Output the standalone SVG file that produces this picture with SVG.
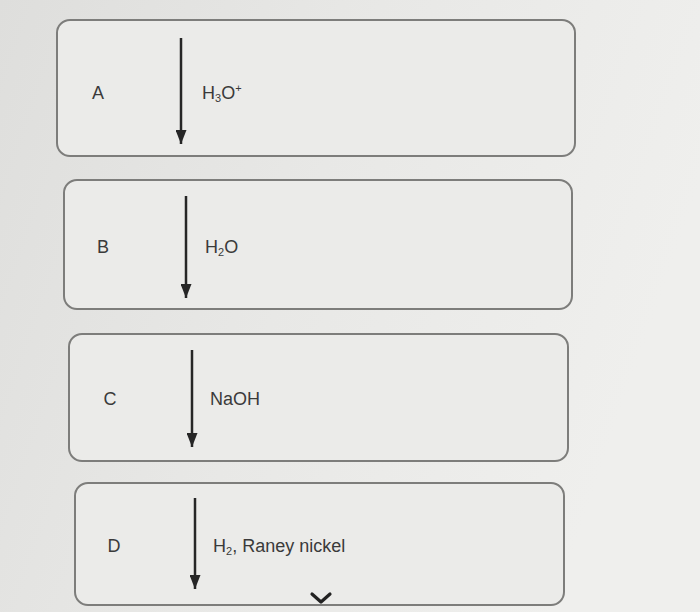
<svg xmlns="http://www.w3.org/2000/svg" width="700" height="612" viewBox="0 0 700 612">
<defs>
<linearGradient id="bg" x1="0" y1="0" x2="1" y2="0.3">
<stop offset="0" stop-color="#dededc"/>
<stop offset="0.5" stop-color="#e8e8e6"/>
<stop offset="1" stop-color="#efefed"/>
</linearGradient>
<marker id="ah" viewBox="0 0 14 11" refX="14" refY="5.5" markerWidth="14" markerHeight="11" markerUnits="userSpaceOnUse" orient="auto">
<path d="M0,0 L14,5.5 L0,11 Z" fill="#262626"/>
</marker>
<style>
.box{fill:#ebebe9;stroke:#7d7d7b;stroke-width:2}
.t{font-family:"Liberation Sans",Arial,sans-serif;font-size:18px;fill:#3a3a3a}
.s{font-size:11px}
.arr{stroke:#262626;stroke-width:2.5;fill:none}
</style>
</defs>
<rect width="700" height="612" fill="url(#bg)"/>
<g id="nodeA">
<rect class="box" x="57" y="20" width="518" height="136" rx="13"/>
<text class="t" x="98" y="99" text-anchor="middle">A</text>
<text class="t" x="202" y="99">H<tspan class="s" dy="3">3</tspan><tspan dy="-3">O</tspan><tspan class="s" dy="-7">+</tspan></text>
</g>
<g id="nodeB">
<rect class="box" x="64" y="180" width="508" height="129" rx="13"/>
<text class="t" x="103" y="253" text-anchor="middle">B</text>
<text class="t" x="205" y="253">H<tspan class="s" dy="3">2</tspan><tspan dy="-3">O</tspan></text>
</g>
<g id="nodeC">
<rect class="box" x="69" y="334" width="499" height="127" rx="13"/>
<text class="t" x="110" y="405" text-anchor="middle">C</text>
<text class="t" x="210" y="405">NaOH</text>
</g>
<g id="nodeD">
<rect class="box" x="75" y="483" width="489" height="122" rx="13"/>
<text class="t" x="114" y="552" text-anchor="middle">D</text>
<text class="t" x="213" y="552">H<tspan class="s" dy="3">2</tspan><tspan dy="-3">, Raney nickel</tspan></text>
</g>
<g id="connectors">
<line class="arr" x1="181" y1="38" x2="181" y2="144" marker-end="url(#ah)"/>
<line class="arr" x1="186" y1="196" x2="186" y2="298" marker-end="url(#ah)"/>
<line class="arr" x1="192" y1="350" x2="192" y2="447" marker-end="url(#ah)"/>
<line class="arr" x1="195" y1="498" x2="195" y2="589" marker-end="url(#ah)"/>
</g>
<path d="M312,594 L321,602 L330,594" fill="none" stroke="#222" stroke-width="3.2" stroke-linecap="round" stroke-linejoin="round"/>
</svg>
